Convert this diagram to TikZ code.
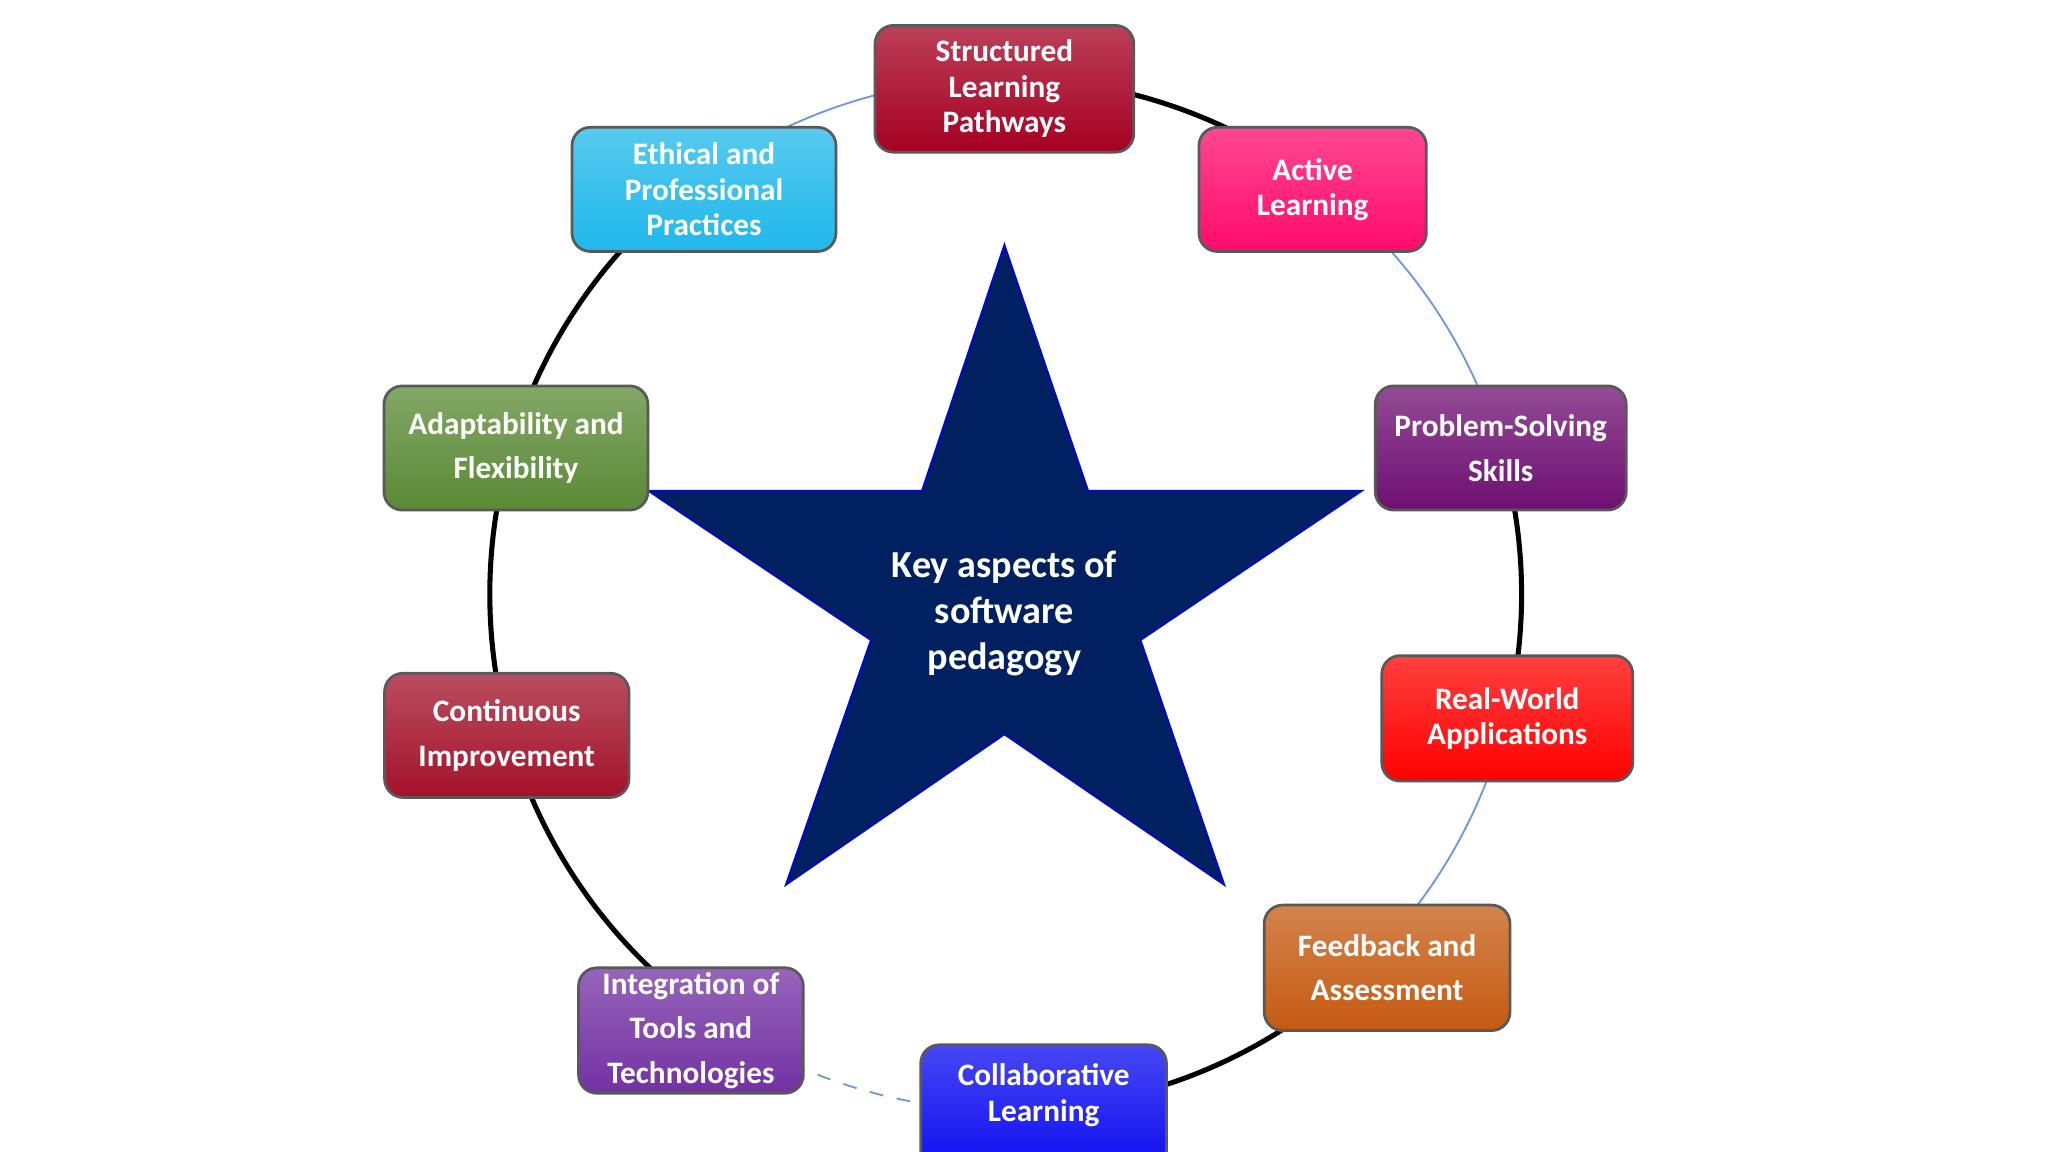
\documentclass[tikz,border=0pt]{standalone}
\usepackage{fontspec}
\setmainfont{Carlito}
\begin{document}
\begin{tikzpicture}[x=0.01cm,y=-0.01cm,
  box/.style={draw=gray!70!black, line width=0.6pt, rounded corners=4pt, text=white,
    font=\bfseries\fontsize{6.8}{7.7}\selectfont, align=center, inner sep=0pt},
  blk/.style={line width=1.1pt, black},
  blu/.style={line width=0.4pt, color=cyan!50!blue!60}]
\useasboundingbox (0,0) rectangle (1568,882);
\fill[white] (0,0) rectangle (1568,882);
\coordinate (c) at (770,455);
\def\R{395}
\draw[blk] (c) ++(90:\R) arc[start angle=90,end angle=52.8,radius=\R];
\draw[blu] (c) ++(52.8:\R) arc[start angle=52.8,end angle=16.5,radius=\R];
\draw[blk] (c) ++(16.5:\R) arc[start angle=16.5,end angle=-13.9,radius=\R];
\draw[blu] (c) ++(-13.9:\R) arc[start angle=-13.9,end angle=-44.4,radius=\R];
\draw[blk] (c) ++(-44.4:\R) arc[start angle=-44.4,end angle=-85.8,radius=\R];
\draw[blu] (c) ++(-85.8:\R) arc[start angle=-85.8,end angle=-125.8,radius=\R];
\draw[blk] (c) ++(234.2:\R) arc[start angle=234.2,end angle=126.7,radius=\R];
\draw[blu, dashed] (c) ++(126.7:\R) arc[start angle=126.7,end angle=90,radius=\R];
% star
\definecolor{navy}{HTML}{002060}
\filldraw[fill=navy, draw=blue!60!navy, line width=0.5pt]
 (769,188) -- (833,376) -- (1042,376) -- (873,490) -- (937,677) -- (769,562)
 -- (602,677) -- (667,490) -- (497,376) -- (706,376) -- cycle;
\node[text=white, font=\bfseries\fontsize{8.3}{10}\selectfont, align=center] (star) at (769,470) {Key aspects of\\software\\pedagogy};
% boxes
\definecolor{c1}{HTML}{A50021}\definecolor{c2}{HTML}{FF0A6C}\definecolor{c3}{HTML}{1FB8EA}
\definecolor{c4}{HTML}{6E0F72}\definecolor{c5}{HTML}{5A8A35}\definecolor{c6}{HTML}{FF0000}
\definecolor{c7}{HTML}{A3122A}\definecolor{c8}{HTML}{C55A11}\definecolor{c9}{HTML}{7331A3}
\definecolor{c10}{HTML}{0A0AF0}
\node[box, top color=c1!75!white, bottom color=c1, minimum width=1.98cm, minimum height=0.97cm] (s) at (769,68) {Structured\\Learning\\Pathways};
\node[box, top color=c2!75!white, bottom color=c2, minimum width=1.74cm, minimum height=0.95cm] (a) at (1005,145) {Active\\Learning};
\node[box, top color=c3!75!white, bottom color=c3, minimum width=2.02cm, minimum height=0.95cm] (e) at (539,145) {Ethical and\\Professional\\Practices};
\node[box, top color=c4!75!white, bottom color=c4, minimum width=1.92cm, minimum height=0.95cm] (p) at (1149,343) {Problem-Solving\\[2pt]Skills};
\node[box, top color=c5!75!white, bottom color=c5, minimum width=2.02cm, minimum height=0.95cm] (ad) at (395,343) {Adaptability and\\[2pt]Flexibility};
\node[box, top color=c6!75!white, bottom color=c6, minimum width=1.92cm, minimum height=0.96cm] (r) at (1154,550) {Real-World\\Applications};
\node[box, top color=c7!75!white, bottom color=c7, minimum width=1.87cm, minimum height=0.95cm] (ci) at (388,563) {Continuous\\[2pt]Improvement};
\node[box, top color=c8!75!white, bottom color=c8, minimum width=1.88cm, minimum height=0.96cm] (f) at (1062,741) {Feedback and\\[2pt]Assessment};
\node[box, top color=c9!75!white, bottom color=c9, minimum width=1.72cm, minimum height=0.96cm] (i) at (529,789) {Integration of\\[2pt]Tools and\\[2pt]Technologies};
\node[box, top color=c10!75!white, bottom color=c10, minimum width=1.88cm, minimum height=1.0cm] (co) at (799,850) {Collaborative\\Learning\\~};
\end{tikzpicture}
\end{document}
